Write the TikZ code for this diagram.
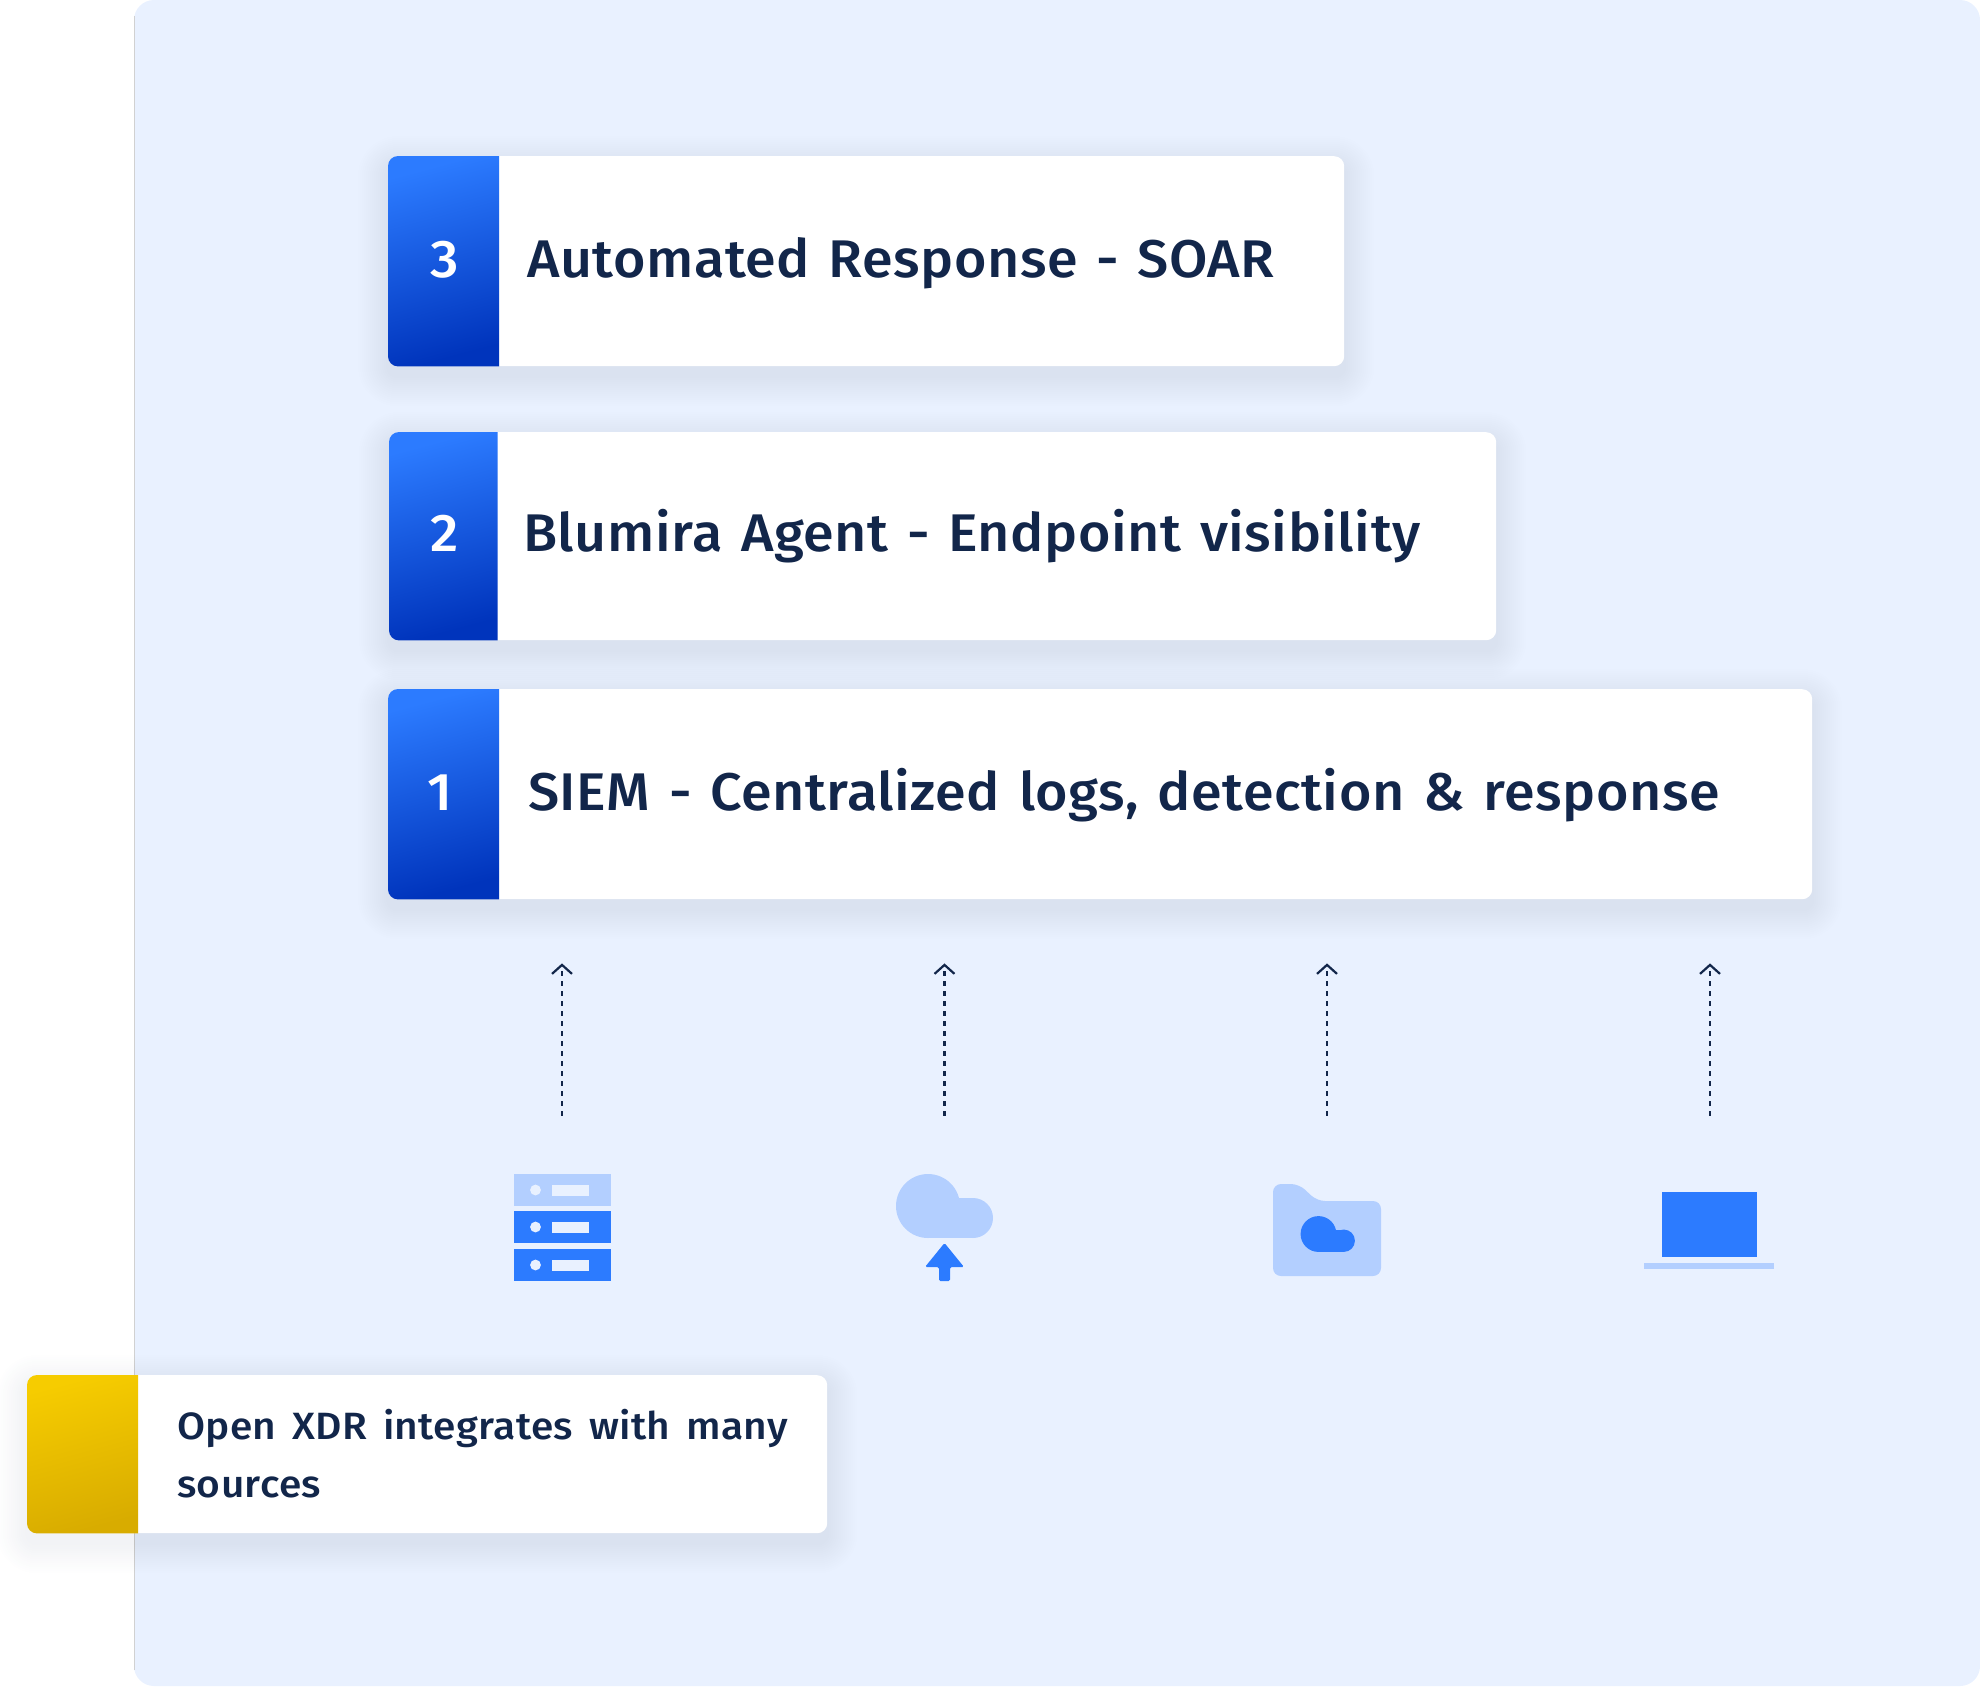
\documentclass[tikz,border=0pt]{standalone}
\usepackage{fontspec}
\usetikzlibrary{arrows.meta,backgrounds}
\setmainfont{Fira Sans}[UprightFont=* Medium,WordSpace=1.3,LetterSpace=1,FakeStretch=1.05]
\newfontfamily\notefont{Fira Sans}[UprightFont=* Medium,WordSpace=1.5,LetterSpace=1,FakeStretch=1.07]

\definecolor{panelcol}{HTML}{E9F1FF}
\definecolor{iconblue}{HTML}{2C7BFF}
\definecolor{iconpale}{HTML}{B3CFFF}
\definecolor{inkcol}{HTML}{12264A}
\definecolor{glowcol}{HTML}{1C2F5E}
\definecolor{tabdeep}{HTML}{0034BC}
\definecolor{goldtop}{HTML}{F6CC00}
\definecolor{golddeep}{HTML}{D8AC00}

\tikzset{
    card/.style={fill=white, rounded corners=10pt, inner sep=0pt, anchor=north west},
    bigtext/.style={text=inkcol, inner sep=0pt, anchor=base west, font=\fontsize{53}{60}\selectfont},
    smalltext/.style={text=inkcol, inner sep=0pt, anchor=base west, font=\notefont\fontsize{38}{44}\selectfont},
    numtext/.style={text=white, inner sep=0pt, anchor=base, font=\fontsize{53}{60}\selectfont},
    iconbox/.style={minimum width=100pt, minimum height=110pt, inner sep=0pt},
    flowline/.style={inkcol, line width=2.2pt, dash pattern=on 5pt off 5pt,
        shorten <=56pt, shorten >=64pt, -{Straight Barb[length=9pt,width=20pt,line width=2.2pt]}},
}

\newcommand{\cloudglyph}[4]{%
    \begin{scope}[shift={(#1,#2)}, scale=#3]
        \fill[#4] (0,0) circle [radius=32];
        \fill[#4] (45,12) circle [radius=20];
        \fill[#4] (0,-8) rectangle (45,32);
    \end{scope}}

\begin{document}
\begin{tikzpicture}[x=1pt, y=-1pt]
    \useasboundingbox (0,0) rectangle (1980,1687);

    % Draw the cards
    \node[card, minimum width=956pt, minimum height=210pt] (C3) at (388,156) {};
    \node[card, minimum width=1107pt, minimum height=208pt] (C2) at (389,432) {};
    \node[card, minimum width=1424pt, minimum height=210pt] (C1) at (388,689) {};
    \node[card, minimum width=800pt, minimum height=158pt] (C0) at (27,1375) {};

    % Panel and soft shadows go behind the cards
    \begin{scope}[on background layer]
        \fill[panelcol, rounded corners=20pt] (134,0) rectangle (1980,1686);
        \draw[black!18, line width=1pt] (134,16) -- (134,1670);
        \foreach \c in {C3,C2,C1,C0}
            \foreach \s in {2,4,...,30}
                \fill[glowcol, opacity=0.0058, rounded corners=10pt+\s pt]
                    ([xshift=-\s pt, yshift=-\s pt-10pt]\c.south west) rectangle
                    ([xshift=\s pt, yshift=\s pt-10pt]\c.north east);
    \end{scope}

    % Coloured tabs
    \foreach \c/\w in {C3/111,C2/108.5,C1/111}
        \shade[top color=iconblue, bottom color=tabdeep, shading angle=15]
            ([xshift=\w pt]\c.south west) -- ([xshift=\w pt]\c.north west)
            [rounded corners=10pt] -- (\c.north west) -- (\c.south west)
            [sharp corners] -- ([xshift=\w pt]\c.south west) -- cycle;
    \shade[top color=goldtop, bottom color=golddeep, shading angle=15]
        ([xshift=111pt]C0.south west) -- ([xshift=111pt]C0.north west)
        [rounded corners=10pt] -- (C0.north west) -- (C0.south west)
        [sharp corners] -- ([xshift=111pt]C0.south west) -- cycle;

    % Card texts
    \node[numtext] (N3) at (445,277) {3};
    \node[numtext] (N2) at (445,551) {2};
    \node[numtext] (N1) at (440,810) {1};
    \node[bigtext] (T3) at (527,277) {Automated Response - SOAR};
    \node[bigtext] (T2) at (523,551) {Blumira Agent - Endpoint visibility};
    \node[bigtext] (T1) at (528,810) {SIEM - Centralized logs, detection \& response};
    \node[smalltext] (T0a) at (177,1439) {Open XDR integrates with many};
    \node[smalltext] (T0b) at (177,1497) {sources};

    % Icon places
    \node[iconbox] (srv) at (562,1227) {};
    \node[iconbox] (cld) at (944.5,1227) {};
    \node[iconbox] (fld) at (1327,1227) {};
    \node[iconbox] (lap) at (1710,1227) {};

    % Draw arrows
    \draw[flowline] (srv.north) -- (srv.north |- C1.south);
    \draw[flowline] (cld.north) -- (cld.north |- C1.south);
    \draw[flowline] (fld.north) -- (fld.north |- C1.south);
    \draw[flowline] (lap.north) -- (lap.north |- C1.south);

    % Server icon
    \foreach \y/\col in {1174/iconpale,1211/iconblue,1249/iconblue} {
        \fill[\col] (514,\y) rectangle (611,\y+32);
        \fill[panelcol] (535.5,\y+16) circle [radius=5.4];
        \fill[panelcol] (551.5,\y+10.5) rectangle (589,\y+21.5);
    }

    % Cloud icon
    \cloudglyph{928}{1206}{1}{iconpale}
    \fill[iconblue, rounded corners=1.5pt] (944.5,1243) -- (964,1267) -- (950,1267)
        -- (950,1281) -- (939,1281) -- (939,1267) -- (925,1267) -- cycle;

    % Folder icon
    \fill[iconpale, rounded corners=8pt] (1273,1184) -- (1299,1184) -- (1317,1201)
        -- (1381,1201) -- (1381,1276) -- (1273,1276) -- cycle;
    \cloudglyph{1318.5}{1234}{0.56}{iconblue}

    % Laptop icon
    \fill[iconblue] (1662,1192) rectangle (1757,1257);
    \fill[iconpale] (1644,1263) rectangle (1774,1269);
\end{tikzpicture}
\end{document}
